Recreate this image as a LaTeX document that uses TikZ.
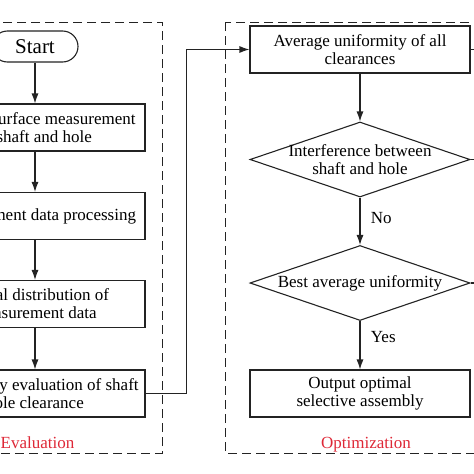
\documentclass[tikz,border=0pt]{standalone}
\usepackage{fontspec}
\setmainfont{Liberation Serif}
\usetikzlibrary{arrows.meta,shapes.geometric}
\definecolor{linec}{RGB}{35,35,35}
\definecolor{capred}{RGB}{222,40,55}
\newcommand{\txtfont}{\fontsize{17}{18}\selectfont}

\tikzset{
  line/.style={draw=linec,line width=1.1pt},
  arr/.style={line,-{Latex[length=10pt,width=7pt]}},
  frame/.style={draw=linec,line width=1pt,dash pattern=on 9pt off 5pt},
  term/.style={line,rounded corners=15.5pt,minimum width=86pt,minimum height=31pt,inner sep=0pt,font=\fontsize{21}{22}\selectfont},
  proc/.style={line,minimum width=220pt,minimum height=47pt,inner sep=0pt,align=center,font=\txtfont},
  decision/.style={line,diamond,minimum width=220pt,minimum height=75pt,inner sep=0pt},
  dtext/.style={font=\txtfont,align=center},
  partlabel/.style={text=capred,font=\txtfont,anchor=base}
}

\begin{document}
\begin{tikzpicture}[x=1pt,y=-1pt]
\useasboundingbox (0,0) rectangle (474,474);
\clip (0,0) rectangle (474,474);
% dashed frames
\draw[frame] (-100,22) rectangle (162,453);
\draw[frame] (225,22) rectangle (560,453);
\node[partlabel] (evl) at (37.5,448) {Evaluation};
\node[partlabel] (opt) at (366,448) {Optimization};
% evaluation
\node[term] (start) at (35,46.5) {Start};
\node[proc] (meas) at (35,127.5) {Contact surface measurement\\of shaft and hole};
\node[proc] (proc) at (35,216) {Measurement data processing};
\node[proc] (dist) at (35,304) {Spatial distribution of\\measurement data};
\node[proc] (unif) at (35,393.5) {Uniformity evaluation of shaft\\hole clearance};
% optimization
\node[proc] (avg) at (360,49.5) {Average uniformity of all\\clearances};
\node[decision,label={[dtext]center:{Interference between\\shaft and hole}}] (intf) at (360,159.5) {};
\node[decision,label={[dtext]center:{Best average uniformity}}] (best) at (360,283) {};
\node[proc] (out) at (360,393.5) {Output optimal\\selective assembly};
% connectors
\draw[arr] (start.south) -- (meas.north);
\draw[arr] (meas.south) -- (proc.north);
\draw[arr] (proc.south) -- (dist.north);
\draw[arr] (dist.south) -- (unif.north);
\draw[arr] (unif.east) -- ++(41,0) |- (avg.west);
\draw[arr] (avg.south) -- (intf.north);
\draw[arr] (intf.south) -- node[pos=0.43,anchor=west,xshift=7pt,font=\txtfont] {No} (best.north);
\draw[arr] (best.south) -- node[pos=0.34,anchor=west,xshift=7pt,font=\txtfont] {Yes} (out.north);
\draw[line] (intf.east) -- ++(40,0) |- (avg.east);
\draw[line] (best.east) -- ++(40,0) |- (avg.east);
\end{tikzpicture}
\end{document}
